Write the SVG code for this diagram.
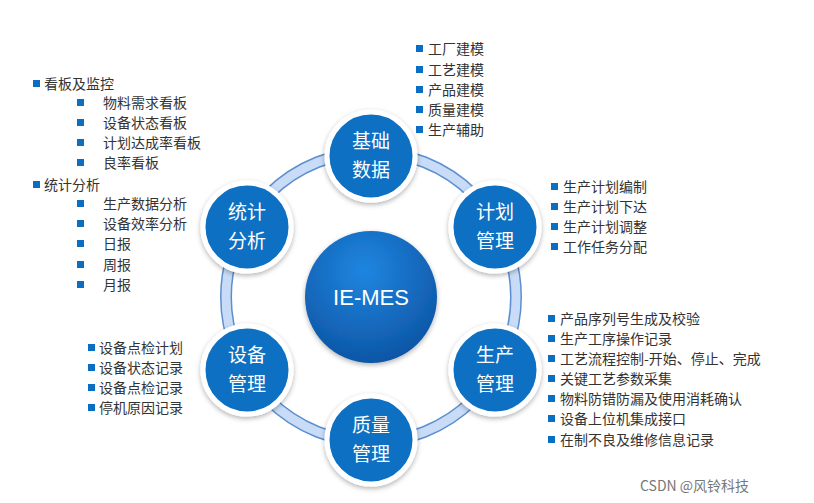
<svg xmlns="http://www.w3.org/2000/svg" width="814" height="503" viewBox="0 0 814 503">
<defs>
<radialGradient id="cg" cx="0.45" cy="0.3" r="0.8"><stop offset="0" stop-color="#1f86e0"/><stop offset="1" stop-color="#0b4f9e"/></radialGradient>
<filter id="sh" x="-30%" y="-30%" width="160%" height="160%"><feDropShadow dx="0" dy="2" stdDeviation="2.5" flood-color="#000" flood-opacity="0.3"/></filter>
<rect id="b" width="7" height="7" fill="#0a6fc2"/>
</defs>
<style>
.t{font-family:"Noto Sans CJK SC","Liberation Sans",sans-serif;font-size:14px;fill:#333}
.n{font-family:"Noto Sans CJK SC",sans-serif;font-size:19px;fill:#fff;text-anchor:middle}
.node{fill:#0a6fc2;stroke:#fff;stroke-width:5;filter:url(#sh)}
</style>
<rect width="814" height="503" fill="#fff"/>
<g id="connectors">
<circle cx="371" cy="297" r="145" fill="none" stroke="#5d8fcf" stroke-width="12"/>
<circle cx="371" cy="297" r="145" fill="none" stroke="#c8dcf8" stroke-width="9"/>
</g>
<g id="center"><circle cx="371" cy="297" r="66" fill="url(#cg)" filter="url(#sh)"/><text x="371" y="305" font-family="Liberation Sans,sans-serif" font-size="22" fill="#fff" text-anchor="middle">IE-MES</text></g>
<g id="n1"><circle class="node" cx="371" cy="156" r="44"/><text class="n" x="371" y="148">基础</text><text class="n" x="371" y="177">数据</text></g>
<g id="n2"><circle class="node" cx="495" cy="227" r="44"/><text class="n" x="495" y="219">计划</text><text class="n" x="495" y="248">管理</text></g>
<g id="n3"><circle class="node" cx="495" cy="370" r="44"/><text class="n" x="495" y="362">生产</text><text class="n" x="495" y="391">管理</text></g>
<g id="n4"><circle class="node" cx="371" cy="440" r="44"/><text class="n" x="371" y="432">质量</text><text class="n" x="371" y="461">管理</text></g>
<g id="n5"><circle class="node" cx="247" cy="370" r="44"/><text class="n" x="247" y="362">设备</text><text class="n" x="247" y="391">管理</text></g>
<g id="n6"><circle class="node" cx="247" cy="227" r="44"/><text class="n" x="247" y="219">统计</text><text class="n" x="247" y="248">分析</text></g>
<g id="list-base">
<use href="#b" x="416" y="45"/><text class="t" x="428" y="54">工厂建模</text>
<use href="#b" x="416" y="66"/><text class="t" x="428" y="75">工艺建模</text>
<use href="#b" x="416" y="86"/><text class="t" x="428" y="95">产品建模</text>
<use href="#b" x="416" y="106"/><text class="t" x="428" y="115">质量建模</text>
<use href="#b" x="416" y="126"/><text class="t" x="428" y="135">生产辅助</text>
</g>
<g id="list-plan">
<use href="#b" x="551" y="183"/><text class="t" x="563" y="192">生产计划编制</text>
<use href="#b" x="551" y="203"/><text class="t" x="563" y="212">生产计划下达</text>
<use href="#b" x="551" y="223"/><text class="t" x="563" y="232">生产计划调整</text>
<use href="#b" x="551" y="243"/><text class="t" x="563" y="252">工作任务分配</text>
</g>
<g id="list-prod">
<use href="#b" x="548" y="315"/><text class="t" x="560" y="324">产品序列号生成及校验</text>
<use href="#b" x="548" y="335"/><text class="t" x="560" y="344">生产工序操作记录</text>
<use href="#b" x="548" y="355"/><text class="t" x="560" y="364">工艺流程控制-开始、停止、完成</text>
<use href="#b" x="548" y="375"/><text class="t" x="560" y="384">关键工艺参数采集</text>
<use href="#b" x="548" y="395"/><text class="t" x="560" y="404">物料防错防漏及使用消耗确认</text>
<use href="#b" x="548" y="415"/><text class="t" x="560" y="424">设备上位机集成接口</text>
<use href="#b" x="548" y="436"/><text class="t" x="560" y="445">在制不良及维修信息记录</text>
</g>
<g id="list-equip">
<use href="#b" x="88" y="344"/><text class="t" x="99" y="353">设备点检计划</text>
<use href="#b" x="88" y="364"/><text class="t" x="99" y="373">设备状态记录</text>
<use href="#b" x="88" y="384"/><text class="t" x="99" y="393">设备点检记录</text>
<use href="#b" x="88" y="404"/><text class="t" x="99" y="413">停机原因记录</text>
</g>
<g id="list-stat">
<use href="#b" x="33" y="80"/><text class="t" x="44" y="89">看板及监控</text>
<use href="#b" x="77" y="99"/><text class="t" x="103" y="108">物料需求看板</text>
<use href="#b" x="77" y="119"/><text class="t" x="103" y="128">设备状态看板</text>
<use href="#b" x="77" y="139"/><text class="t" x="103" y="148">计划达成率看板</text>
<use href="#b" x="77" y="159"/><text class="t" x="103" y="168">良率看板</text>
<use href="#b" x="33" y="181"/><text class="t" x="44" y="190">统计分析</text>
<use href="#b" x="77" y="200"/><text class="t" x="103" y="209">生产数据分析</text>
<use href="#b" x="77" y="220"/><text class="t" x="103" y="229">设备效率分析</text>
<use href="#b" x="77" y="240"/><text class="t" x="103" y="249">日报</text>
<use href="#b" x="77" y="261"/><text class="t" x="103" y="270">周报</text>
<use href="#b" x="77" y="281"/><text class="t" x="103" y="290">月报</text>
</g>
<text x="640" y="491" font-family="Noto Sans CJK SC,sans-serif" font-size="14" fill="#777">CSDN @风铃科技</text>
</svg>
